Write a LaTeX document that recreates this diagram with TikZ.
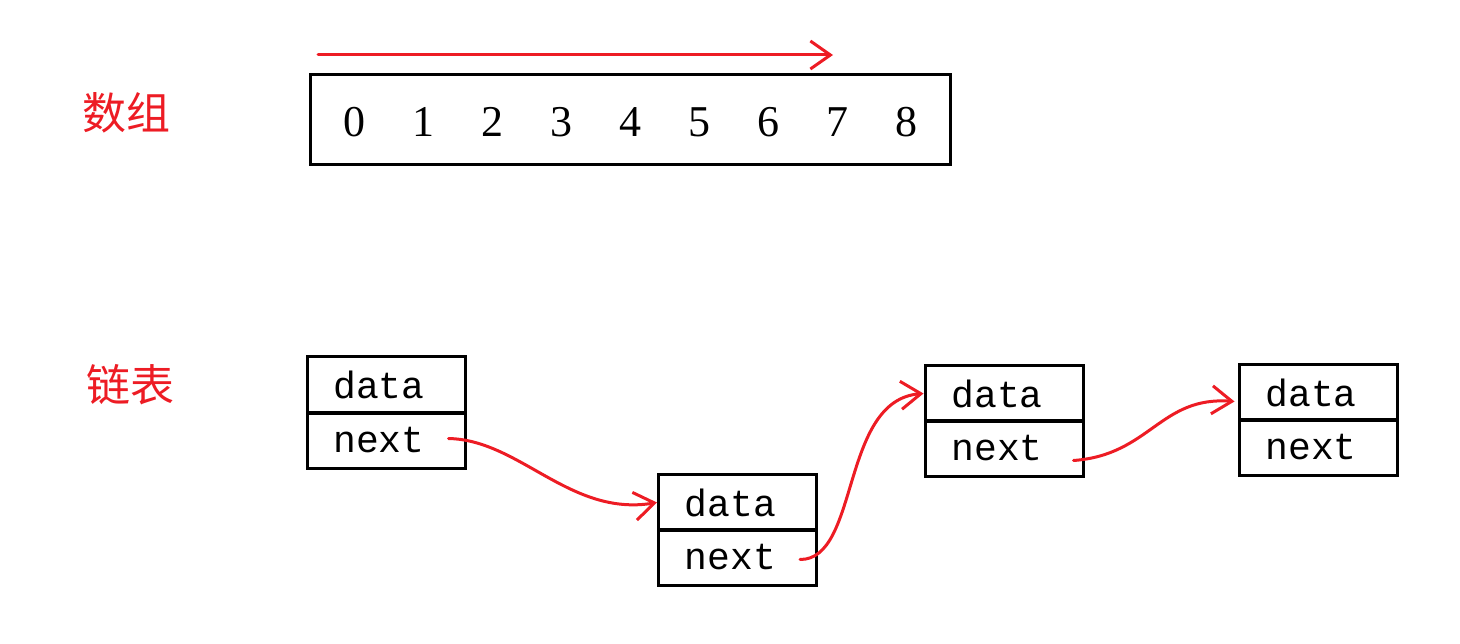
\documentclass[tikz,border=0pt]{standalone}
\usepackage{fontspec}
\setmainfont{Liberation Serif}
\newfontfamily\cjk{Noto Sans CJK SC}
\newfontfamily\monof{Liberation Mono}
\usetikzlibrary{arrows.meta,calc}
\definecolor{pen}{HTML}{ED1C24}
\tikzset{
  cell/.style={draw=black, line width=3pt, minimum width=158pt, minimum height=56pt,
    inner sep=0pt, font=\monof\fontsize{38}{40}\selectfont,
    execute at begin node={\kern-14pt}},
  digit/.style={inner sep=0pt, font=\fontsize{44}{46}\selectfont},
  title/.style={text=pen, inner sep=0pt, font=\cjk\fontsize{44}{48}\selectfont},
  redarrow/.style={draw=pen, line width=3pt, line cap=round,
    -{Straight Barb[length=20pt,width=28pt,line width=3pt]}},
}
\begin{document}
\begin{tikzpicture}[x=1pt,y=-1pt]
\useasboundingbox (0,0) rectangle (1460,644);
% labels
\node[title] (lab1) at (126,113) {数组};
\node[title] (lab2) at (130,385) {链表};
% array
\node[draw=black, line width=3pt, minimum width=640pt, minimum height=90pt, inner sep=0pt] (arr) at (630,120) {};
\foreach \i in {0,...,8} {
  \node[digit] (dg\i) at (354+69*\i,122) {\i};
}
\coordinate (as) at (318,55);
\coordinate (ae) at (833,55);
\draw[redarrow] (as) -- (ae);
% list nodes
\node[cell] (d1) at (386,385) {data};
\node[cell] (n1) at (386,440.5) {next};
\node[cell] (d2) at (737.5,502.5) {data};
\node[cell] (n2) at (737.5,557.5) {next};
\node[cell] (d3) at (1004,393.5) {data};
\node[cell] (n3) at (1004,448.5) {next};
\node[cell] (d4) at (1318,392.5) {data};
\node[cell] (n4) at (1318,447.5) {next};
% pointers
\draw[redarrow] ($(n1.east)+(-18,-2)$) .. controls (520,440) and (570,517) .. (d2.west);
\draw[redarrow] ($(n2.east)+(-18,2)$) .. controls (860,560) and (840,400) .. (d3.west);
\draw[redarrow] ($(n3.east)+(-11,12)$) .. controls (1150,455) and (1160,396) .. ($(d4.west)+(-3,9)$);
\end{tikzpicture}
\end{document}
